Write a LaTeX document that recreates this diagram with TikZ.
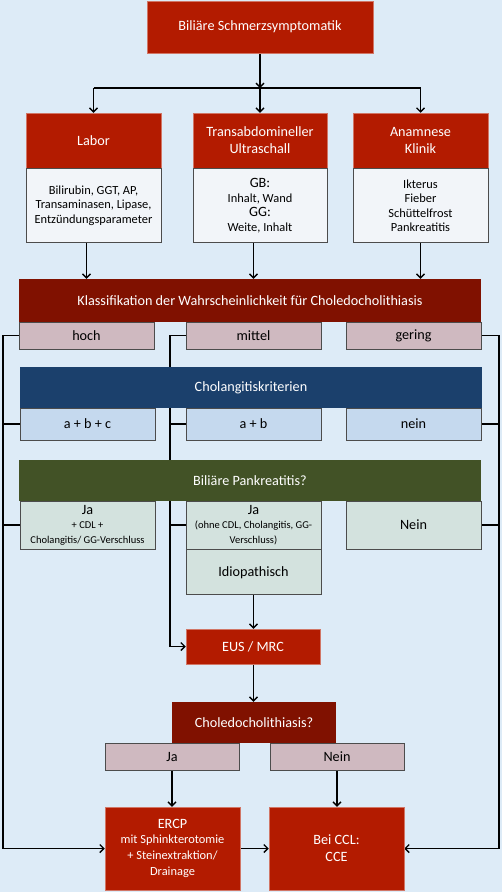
\documentclass[tikz,border=0pt]{standalone}
\usepackage{fontspec}
\setmainfont{Carlito}
\usetikzlibrary{arrows.meta}

\definecolor{hgblau}{RGB}{221,235,247}
\definecolor{rot}{RGB}{179,27,0}
\definecolor{dunkelrot}{RGB}{128,17,0}
\definecolor{rosa}{RGB}{207,185,192}
\definecolor{blau}{RGB}{27,64,108}
\definecolor{hellblau}{RGB}{197,217,238}
\definecolor{oliv}{RGB}{66,82,38}
\definecolor{graugruen}{RGB}{211,226,222}
\definecolor{weiss}{RGB}{242,245,249}

\newcommand\gross{\fontsize{14.2}{17}\selectfont}
\newcommand\klein{\fontsize{12.4}{14.5}\selectfont}
\newcommand\winzig{\fontsize{10.5}{12.5}\selectfont}

\pgfdeclarelayer{hinten}
\pgfdeclarelayer{linien}
\pgfsetlayers{hinten,linien,main}

\tikzset{
  kasten/.style={rectangle, align=center, inner sep=1pt, minimum width=135pt, font=\gross},
  rotk/.style={kasten, fill=rot, draw=rot!60!white, line width=0.5pt, text=white},
  dunkelk/.style={kasten, fill=dunkelrot, text=white},
  zelle/.style={kasten, draw=black!70, line width=0.8pt},
  pfeil/.style={line width=1.4pt}
}

\begin{document}
\begin{tikzpicture}[x=1pt, y=-1pt, >={Straight Barb[length=4pt,width=8pt]}]
\begin{pgfonlayer}{hinten}
\fill[hgblau] (0,0) rectangle (502,892);
\end{pgfonlayer}
\useasboundingbox (0,0) rectangle (502,892);

% Start
\node[rotk, minimum width=226pt, minimum height=52pt] (start) at (260,27) {Biliäre Schmerzsymptomatik};

% Diagnostik
\node[rotk, minimum height=55pt] (labor) at (93.5,140.5) {Labor};
\node[rotk, minimum width=134pt, minimum height=55pt] (sono) at (260,140.5) {Transabdomineller\\Ultraschall};
\node[rotk, minimum height=55pt] (anam) at (420.5,140.5) {Anamnese\\Klinik};

\node[zelle, fill=weiss, minimum height=74pt, anchor=north, font=\klein] (laborw) at (labor.south) {Bilirubin, GGT, AP,\\Transaminasen, Lipase,\\Entzündungsparameter};
\node[zelle, fill=weiss, minimum width=134pt, minimum height=74pt, anchor=north, font=\klein] (sonow) at (sono.south) {{\gross GB:}\\Inhalt, Wand\\{\gross GG:}\\Weite, Inhalt};
\node[zelle, fill=weiss, minimum height=74pt, anchor=north, font=\klein] (anamw) at (anam.south) {Ikterus\\Fieber\\Schüttelfrost\\Pankreatitis};

% Wahrscheinlichkeit
\node[dunkelk, minimum width=462pt, minimum height=43pt] (klass) at (250,300.5) {Klassifikation der Wahrscheinlichkeit für Choledocholithiasis};
\node[zelle, fill=rosa, minimum height=27pt] (hoch) at (86.5,335.5) {hoch};
\node[zelle, fill=rosa, minimum height=27pt] (mittel) at (253.5,335.5) {mittel};
\node[zelle, fill=rosa, minimum height=27pt] (gering) at (413.5,335.5) {gering};

% Cholangitis
\node[kasten, fill=blau, text=white, minimum width=462pt, minimum height=41pt] (chol) at (251,387.5) {Cholangitiskriterien};
\node[zelle, fill=hellblau, minimum height=32pt] (abc) at (87.5,424) {a + b + c};
\node[zelle, fill=hellblau, minimum height=32pt] (ab) at (253.5,424) {a + b};
\node[zelle, fill=hellblau, minimum height=32pt] (neinc) at (413.5,424) {nein};

% Pankreatitis
\node[kasten, fill=oliv, text=white, minimum width=462pt, minimum height=41pt] (pank) at (250,480.5) {Biliäre Pankreatitis?};
\node[zelle, fill=graugruen, minimum height=48pt] (jap) at (87.5,525) {Ja\\[-3pt]{\winzig + CDL +}\\[-2pt]{\winzig Cholangitis/ GG-Verschluss}};
\node[zelle, fill=graugruen, minimum height=48pt] (jam) at (253.5,525) {Ja\\[-3pt]{\winzig (ohne CDL, Cholangitis, GG-}\\[-2pt]{\winzig Verschluss)}};
\node[zelle, fill=graugruen, minimum height=45pt, anchor=north] (idio) at (jam.south) {Idiopathisch};
\node[zelle, fill=graugruen, minimum height=48pt] (neinp) at (413.5,525) {Nein};

% Bildgebung
\node[rotk, minimum width=134pt, minimum height=35pt] (eus) at (253,646.5) {EUS / MRC};
\node[dunkelk, minimum width=164pt, minimum height=41pt] (chole) at (254,722.5) {Choledocholithiasis?};
\node[zelle, fill=rosa, minimum width=134pt, minimum height=27pt] (jac) at (172,756.5) {Ja};
\node[zelle, fill=rosa, minimum width=134pt, minimum height=27pt] (neinl) at (337,756.5) {Nein};

% Therapie
\node[rotk, minimum height=83pt] (ercp) at (172.5,848.5) {ERCP\\[-2pt]{\klein mit Sphinkterotomie}\\[-1pt]{\klein + Steinextraktion/}\\[-1pt]{\klein Drainage}};
\node[rotk, minimum height=83pt] (cce) at (336.5,848.5) {Bei CCL:\\CCE};

\coordinate (gabel) at (0,88);
\coordinate (lbus) at (3,0);
\coordinate (mbus) at (170,0);
\coordinate (rbus) at (499,0);

\begin{pgfonlayer}{linien}
\draw[pfeil, ->] (start.south) -- (start.south |- gabel);
\draw[pfeil] (labor.north |- gabel) -- (anam.north |- gabel);
\draw[pfeil, ->] (labor.north |- gabel) -- (labor.north);
\draw[pfeil, ->] (sono.north |- gabel) -- (sono.north);
\draw[pfeil, ->] (anam.north |- gabel) -- (anam.north);

\draw[pfeil, ->] (laborw.south -| hoch) -- (hoch |- klass.north);
\draw[pfeil, ->] (sonow.south -| mittel) -- (mittel |- klass.north);
\draw[pfeil, ->] (anamw.south) -- (anamw.south |- klass.north);

% links: hoch
\draw[pfeil, ->] (hoch.west) -- (hoch.west -| lbus) |- (ercp.west);
\draw[pfeil] (abc.west) -- (abc.west -| lbus);
\draw[pfeil] (jap.west) -- (jap.west -| lbus);

% Mitte: mittel
\draw[pfeil, ->] (mittel.west) -- (mittel.west -| mbus) |- (eus.west);
\draw[pfeil] (ab.west) -- (ab.west -| mbus);
\draw[pfeil] (jam.west) -- (jam.west -| mbus);

% rechts: gering
\draw[pfeil, ->] (gering.east) -- (gering.east -| rbus) |- (cce.east);
\draw[pfeil] (neinc.east) -- (neinc.east -| rbus);
\draw[pfeil] (neinp.east) -- (neinp.east -| rbus);

\draw[pfeil, ->] (idio.south) -- (idio.south |- eus.north);
\draw[pfeil, ->] (idio.south |- eus.south) -- (idio.south |- chole.north);
\draw[pfeil, ->] (jac.south) -- (ercp.north -| jac.south);
\draw[pfeil, ->] (neinl.south) -- (cce.north -| neinl.south);
\draw[pfeil, ->] (ercp.east) -- (cce.west);
\end{pgfonlayer}
\end{tikzpicture}
\end{document}
